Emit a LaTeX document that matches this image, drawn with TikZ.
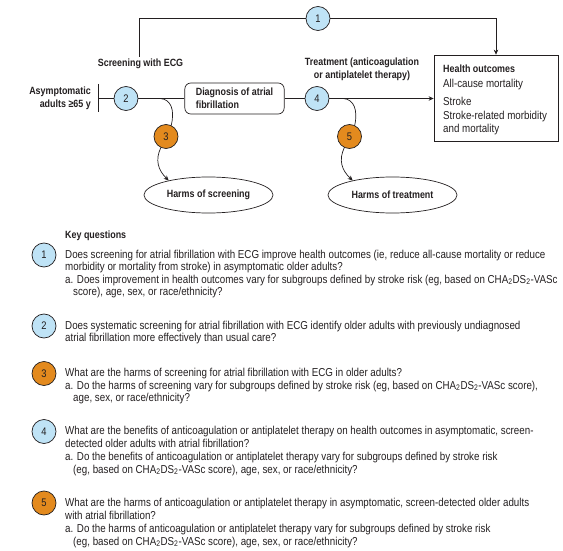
\documentclass[tikz,border=0pt]{standalone}
\usepackage{fontspec}
\setmainfont[FakeStretch=0.85]{Liberation Sans}
\usetikzlibrary{shapes.geometric,arrows.meta}
\definecolor{kqblue}{HTML}{BFE3F6}
\definecolor{kqorange}{HTML}{E38A1E}
\definecolor{ink}{HTML}{231F20}
\begin{document}
\begin{tikzpicture}[x=1pt,y=-1pt,
  every node/.style={text=ink, font=\fontsize{11.5}{13}\selectfont},
  lbl/.style={font=\fontsize{10.5}{13}\selectfont\bfseries},
  numc/.style={circle, draw=ink, line width=0.7pt, minimum size=24pt, inner sep=0pt, font=\fontsize{11}{13}\selectfont},
  bluec/.style={numc, fill=kqblue},
  orangec/.style={numc, fill=kqorange},
  conn/.style={draw=ink, line width=0.7pt},
  arr/.style={conn, -{Stealth[length=5pt,width=4.5pt]}},
  harm/.style={ellipse, draw=ink, line width=0.7pt, minimum width=129pt, minimum height=36pt, inner sep=0pt, font=\fontsize{10.5}{13}\selectfont\bfseries},
  qline/.style={anchor=base west, inner sep=0pt},
]
\useasboundingbox (0,0) rectangle (563,551);

% ---------- diagram ----------
\node[bluec] (c1) at (318,18.5) {1};
\node[lbl, anchor=center] (scr) at (140.5,63.5) {Screening with ECG};
\node[lbl, align=center] (trt) at (362,69.5) {Treatment (anticoagulation\\or antiplatelet therapy)};
\node[lbl, align=right, anchor=east, inner sep=0pt] (asy) at (91,98.5) {Asymptomatic\\adults ≥65 y};
\coordinate (bartop) at (98,84);
\coordinate (barbot) at (98,112);
\coordinate (start) at (98,98.5);
\node[bluec] (c2) at (126,98.5) {2};
\node[draw=ink, line width=0.7pt, rounded corners=6pt, minimum width=99pt, minimum height=31pt, align=left, inner xsep=11pt, font=\fontsize{10.5}{13}\selectfont\bfseries] (diag) at (234.5,98.5) {Diagnosis of atrial\\fibrillation};
\node[bluec] (c4) at (317,98.5) {4};
\node[draw=ink, line width=0.7pt, minimum width=124pt, minimum height=86pt] (ho) at (496,98) {};
\node[lbl, anchor=west, inner sep=0pt] (ho1) at (443,69) {Health outcomes};
\node[anchor=west, inner sep=0pt] (ho2) at (443,84.5) {All-cause mortality};
\node[anchor=west, inner sep=0pt] (ho3) at (443,101) {Stroke};
\node[anchor=west, align=left, inner sep=0pt] (ho4) at (443,123) {Stroke-related morbidity\\and mortality};
\coordinate (topl) at (139,57);
\coordinate (b2) at (160,98.5);
\coordinate (b4) at (343,98.5);
\node[orangec] (c3) at (166,136.5) {3};
\node[orangec] (c5) at (349.5,136.5) {5};
\node[harm] (e1) at (208.5,195) {Harms of screening};
\node[harm] (e2) at (392.5,195) {Harms of treatment};

\draw[conn] (bartop) -- (barbot);
\draw[conn] (start) -- (c2) -- (diag) -- (c4);
\draw[arr] (c4) -- (ho.west |- c4);
\draw[conn] (topl) |- (c1);
\draw[arr] (c1) -| (ho.north -| 496,0);
\draw[conn] (b2) .. controls (171,99) and (175,110) .. (c3.65);
\draw[arr] (c3.245) .. controls (155,160) and (158,170) .. (e1.160);
\draw[conn] (b4) .. controls (354,99) and (358,110) .. (c5.65);
\draw[arr] (c5.245) .. controls (338.5,160) and (341.5,170) .. (e2.160);

% ---------- key questions ----------
\node[qline, font=\fontsize{10.5}{13}\selectfont\bfseries] (kq) at (65,238) {Key questions};

\node[bluec] (k1) at (44,255) {1};
\node[qline] (q1a) at (65,258) {Does screening for atrial fibrillation with ECG improve health outcomes (ie, reduce all-cause mortality or reduce};
\node[qline] (q1b) at (65,270.5) {morbidity or mortality from stroke) in asymptomatic older adults?};
\node[qline] (q1c) at (65,283) {a. Does improvement in health outcomes vary for subgroups defined by stroke risk (eg, based on CHA\textsubscript{2}DS\textsubscript{2}-VASc};
\node[qline] (q1d) at (73,295.5) {score), age, sex, or race/ethnicity?};

\node[bluec] (k2) at (44,326) {2};
\node[qline] (q2a) at (65,329) {Does systematic screening for atrial fibrillation with ECG identify older adults with previously undiagnosed};
\node[qline] (q2b) at (65,341.5) {atrial fibrillation more effectively than usual care?};

\node[orangec] (k3) at (44,373.5) {3};
\node[qline] (q3a) at (65,376.5) {What are the harms of screening for atrial fibrillation with ECG in older adults?};
\node[qline] (q3b) at (65,389) {a. Do the harms of screening vary for subgroups defined by stroke risk (eg, based on CHA\textsubscript{2}DS\textsubscript{2}-VASc score),};
\node[qline] (q3c) at (73,401.5) {age, sex, or race/ethnicity?};

\node[bluec] (k4) at (44,431.5) {4};
\node[qline] (q4a) at (65,434.5) {What are the benefits of anticoagulation or antiplatelet therapy on health outcomes in asymptomatic, screen-};
\node[qline] (q4b) at (65,447) {detected older adults with atrial fibrillation?};
\node[qline] (q4c) at (65,460) {a. Do the benefits of anticoagulation or antiplatelet therapy vary for subgroups defined by stroke risk};
\node[qline] (q4d) at (73,473) {(eg, based on CHA\textsubscript{2}DS\textsubscript{2}-VASc score), age, sex, or race/ethnicity?};

\node[orangec] (k5) at (44,503) {5};
\node[qline] (q5a) at (65,506) {What are the harms of anticoagulation or antiplatelet therapy in asymptomatic, screen-detected older adults};
\node[qline] (q5b) at (65,519.5) {with atrial fibrillation?};
\node[qline] (q5c) at (65,532) {a. Do the harms of anticoagulation or antiplatelet therapy vary for subgroups defined by stroke risk};
\node[qline] (q5d) at (73,545) {(eg, based on CHA\textsubscript{2}DS\textsubscript{2}-VASc score), age, sex, or race/ethnicity?};
\end{tikzpicture}
\end{document}
